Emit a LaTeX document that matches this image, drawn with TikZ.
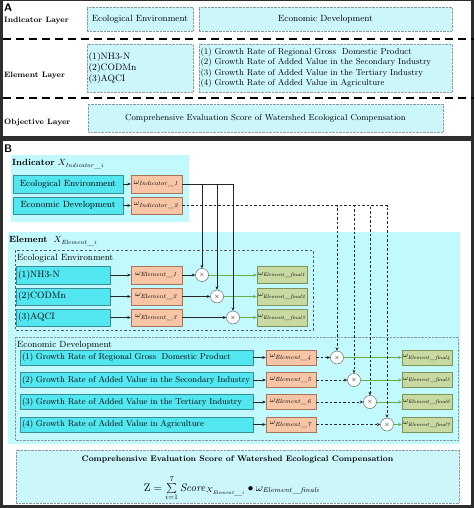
\documentclass[tikz,border=0pt]{standalone}
\usetikzlibrary{arrows.meta}
\definecolor{frameC}{HTML}{2E2E2E}
\definecolor{cyanA}{HTML}{CBF7FA}
\definecolor{cyanBG}{HTML}{C2F9FC}
\definecolor{cyanBox}{HTML}{52E6F0}
\definecolor{cyanBoxD}{HTML}{3A8E9C}
\definecolor{salmonF}{HTML}{F8C6A6}
\definecolor{salmonD}{HTML}{A8745A}
\definecolor{oliveF}{HTML}{C8D9A2}
\definecolor{oliveD}{HTML}{7E925A}
\definecolor{arrowG}{HTML}{6AAE4A}
\definecolor{dotG}{HTML}{8A9A9C}
\begin{document}
\begin{tikzpicture}[x=1pt,y=-1pt,
  font=\fontsize{9}{10.5}\selectfont,
  rowfont/.style={font=\fontsize{8.5}{10}\selectfont},
  abox/.style={draw=dotG, densely dotted, fill=cyanA, inner sep=0pt},
  ibox/.style={draw=cyanBoxD, fill=cyanBox, inner sep=0pt},
  leftbox/.style={ibox, text width=#1, align=left, inner xsep=2pt},
  wbox/.style={draw=salmonD, fill=salmonF, inner sep=0pt, minimum width=51, font=\fontsize{8}{9}\selectfont},
  fbox/.style={draw=oliveD, fill=oliveF, inner sep=0pt, minimum width=50, font=\fontsize{7.5}{9}\selectfont},
  mul/.style={circle, draw=black!70, fill=white, minimum size=13, inner sep=0pt, font=\fontsize{6}{6}\selectfont},
  arr/.style={-{Stealth[length=3.5pt,width=3pt]}, black!85, line width=0.5pt},
  garr/.style={-{Stealth[length=3.5pt,width=3pt]}, arrowG, line width=0.6pt},
  dline/.style={dash pattern=on 2.5pt off 2pt},
  lbl/.style={anchor=west, inner sep=0pt},
  laylbl/.style={lbl, font=\bfseries\fontsize{7.8}{9}\selectfont}
]
\useasboundingbox (0,0) rectangle (474,508);
\fill[frameC] (0,0) rectangle (474,508);
% panel A
\fill[white] (3,0.8) rectangle (471,136);
\node[lbl, font=\sffamily\bfseries\fontsize{11}{11}\selectfont] (labA) at (4,7.5) {A};
\node[laylbl] (lay1) at (4,21) {Indicator Layer};
\node[laylbl] (lay2) at (4,76) {Element Layer};
\node[laylbl] (lay3) at (4,123) {Objective Layer};
\draw[black, line width=1.3pt, dash pattern=on 8pt off 5pt] (3,39) -- (474,39);
\draw[black, line width=1.3pt, dash pattern=on 8pt off 5pt] (3,98) -- (474,98);
\node[abox, minimum width=106, minimum height=24] (aEco) at (140,19) {Ecological Environment};
\node[abox, minimum width=253, minimum height=24] (aEcon) at (325.5,19) {Economic Development};
\node[abox, text width=103, align=left, inner xsep=1.5pt, minimum height=48, font=\fontsize{9.3}{11}\selectfont] (aEl1) at (140,68) {(1)NH3-N\\(2)CODMn\\(3)AQCI};
\node[abox, text width=250, align=left, inner xsep=1.5pt, minimum height=48, font=\fontsize{8.6}{10.5}\selectfont] (aEl2) at (325.5,68) {(1) Growth Rate of Regional Gross\ \ Domestic Product\\(2) Growth Rate of Added Value in the Secondary Industry\\(3) Growth Rate of Added Value in the Tertiary Industry\\(4) Growth Rate of Added Value in Agriculture};
\node[abox, minimum width=355, minimum height=28, font=\fontsize{8.6}{10}\selectfont] (aObj) at (265.5,118) {Comprehensive Evaluation Score of Watershed Ecological Compensation};
% panel B
\fill[white] (3,141) rectangle (471,505);
\node[lbl, font=\sffamily\bfseries\fontsize{11}{11}\selectfont] (labB) at (4,149) {B};
\fill[cyanBG] (11,155) rectangle (189,222);
\node[lbl] (indT) at (12,164) {\textbf{Indicator} $X_{\scriptstyle\mathit{Indicator\_i}}$};
\node[ibox, minimum width=110, minimum height=18] (iEco) at (68,184) {Ecological Environment};
\node[ibox, minimum width=110, minimum height=17] (iEcon) at (68,205.5) {Economic Development};
\node[wbox, minimum height=18] (wI1) at (156.5,184) {$\omega_{\scriptstyle\mathit{Indicator\_1}}$};
\node[wbox, minimum height=17] (wI2) at (156.5,205.5) {$\omega_{\scriptstyle\mathit{Indicator\_2}}$};
\draw[arr] (iEco) -- (wI1);
\draw[arr] (iEcon) -- (wI2);
% element area
\fill[cyanBG] (8,232) rectangle (460,444);
\node[lbl] (elT) at (9,241) {\textbf{Element}\ \ $X_{\scriptstyle\mathit{Element\_i}}$};
\draw[black!65, dline] (15,250) rectangle (313,330);
\node[lbl] (ecoT) at (17,258) {Ecological Environment};
\node[leftbox=90, minimum height=18, font=\fontsize{9.3}{10}\selectfont] (e1) at (63,275) {(1)NH3-N};
\node[leftbox=90, minimum height=17, font=\fontsize{9.3}{10}\selectfont] (e2) at (63,296.5) {(2)CODMn};
\node[leftbox=90, minimum height=17, font=\fontsize{9.3}{10}\selectfont] (e3) at (63,317.5) {(3)AQCI};
\node[wbox, minimum height=18] (w1) at (156.5,275) {$\omega_{\scriptstyle\mathit{Element\_1}}$};
\node[wbox, minimum height=17] (w2) at (156.5,296.5) {$\omega_{\scriptstyle\mathit{Element\_2}}$};
\node[wbox, minimum height=17] (w3) at (156.5,317.5) {$\omega_{\scriptstyle\mathit{Element\_3}}$};
\node[mul] (m1) at (202,275) {$\times$};
\node[mul] (m2) at (217,296.5) {$\times$};
\node[mul] (m3) at (233,317.5) {$\times$};
\node[fbox, minimum height=17] (f1) at (282,275) {$\omega_{\scriptstyle\mathit{Element\_final1}}$};
\node[fbox, minimum height=17] (f2) at (282,296.5) {$\omega_{\scriptstyle\mathit{Element\_final2}}$};
\node[fbox, minimum height=17] (f3) at (282,317.5) {$\omega_{\scriptstyle\mathit{Element\_final3}}$};
\foreach \i in {1,2,3}{
  \draw[arr] (e\i) -- (w\i);
  \draw[arr] (w\i) -- (m\i);
  \draw[garr] (m\i) -- (f\i);
}
% economic
\draw[dotG, densely dotted] (15,337) rectangle (458,440);
\node[lbl] (econT) at (17,345) {Economic Development};
\node[leftbox=229, minimum height=15, rowfont] (e4) at (136.5,357.5) {\mbox{(1) Growth Rate of Regional Gross\ \ Domestic Product}};
\node[leftbox=229, minimum height=15, rowfont] (e5) at (136.5,380) {\mbox{(2) Growth Rate of Added Value in the Secondary Industry}};
\node[leftbox=229, minimum height=15, rowfont] (e6) at (136.5,402) {\mbox{(3) Growth Rate of Added Value in the Tertiary Industry}};
\node[leftbox=229, minimum height=15, rowfont] (e7) at (136.5,424.5) {\mbox{(4) Growth Rate of Added Value in Agriculture}};
\node[wbox, minimum width=50, minimum height=15] (w4) at (291,357.5) {$\omega_{\scriptstyle\mathit{Element\_4}}$};
\node[wbox, minimum width=50, minimum height=15] (w5) at (291,380) {$\omega_{\scriptstyle\mathit{Element\_5}}$};
\node[wbox, minimum width=50, minimum height=15] (w6) at (291,402) {$\omega_{\scriptstyle\mathit{Element\_6}}$};
\node[wbox, minimum width=50, minimum height=15] (w7) at (291,424.5) {$\omega_{\scriptstyle\mathit{Element\_7}}$};
\node[mul] (m4) at (337,357.5) {$\times$};
\node[mul] (m5) at (354,380) {$\times$};
\node[mul] (m6) at (370,402) {$\times$};
\node[mul] (m7) at (387,424.5) {$\times$};
\node[fbox, minimum height=15] (f4) at (427,357.5) {$\omega_{\scriptstyle\mathit{Element\_final4}}$};
\node[fbox, minimum height=15] (f5) at (427,380) {$\omega_{\scriptstyle\mathit{Element\_final5}}$};
\node[fbox, minimum height=15] (f6) at (427,402) {$\omega_{\scriptstyle\mathit{Element\_final6}}$};
\node[fbox, minimum height=15] (f7) at (427,424.5) {$\omega_{\scriptstyle\mathit{Element\_final7}}$};
\foreach \i in {4,5,6,7}{
  \draw[arr] (e\i) -- (w\i);
  \draw[arr, dline] (w\i) -- (m\i);
  \draw[garr] (m\i) -- (f\i);
}
% indicator weight lines
\foreach \i in {1,2,3}{ \draw[arr] (wI1.east) -| (m\i); }
\foreach \i in {4,5,6,7}{ \draw[arr, dline] (wI2.east) -| (m\i); }
% objective
\node[abox, minimum width=443, minimum height=53] (obj) at (237.5,476.5) {};
\node[font=\bfseries\fontsize{8}{9}\selectfont, inner sep=0pt] (objT) at (237.5,459.5) {Comprehensive Evaluation Score of Watershed Ecological Compensation};
\node[inner sep=0pt, font=\fontsize{10.5}{12}\selectfont] (form) at (232,488.5) {$\mathrm{Z}=\sum\limits_{i=1}^{7}\mathit{Score}_{X_{\mathit{Element\_i}}}\bullet\omega_{\mathit{Element\_finali}}$};
\end{tikzpicture}
\end{document}
